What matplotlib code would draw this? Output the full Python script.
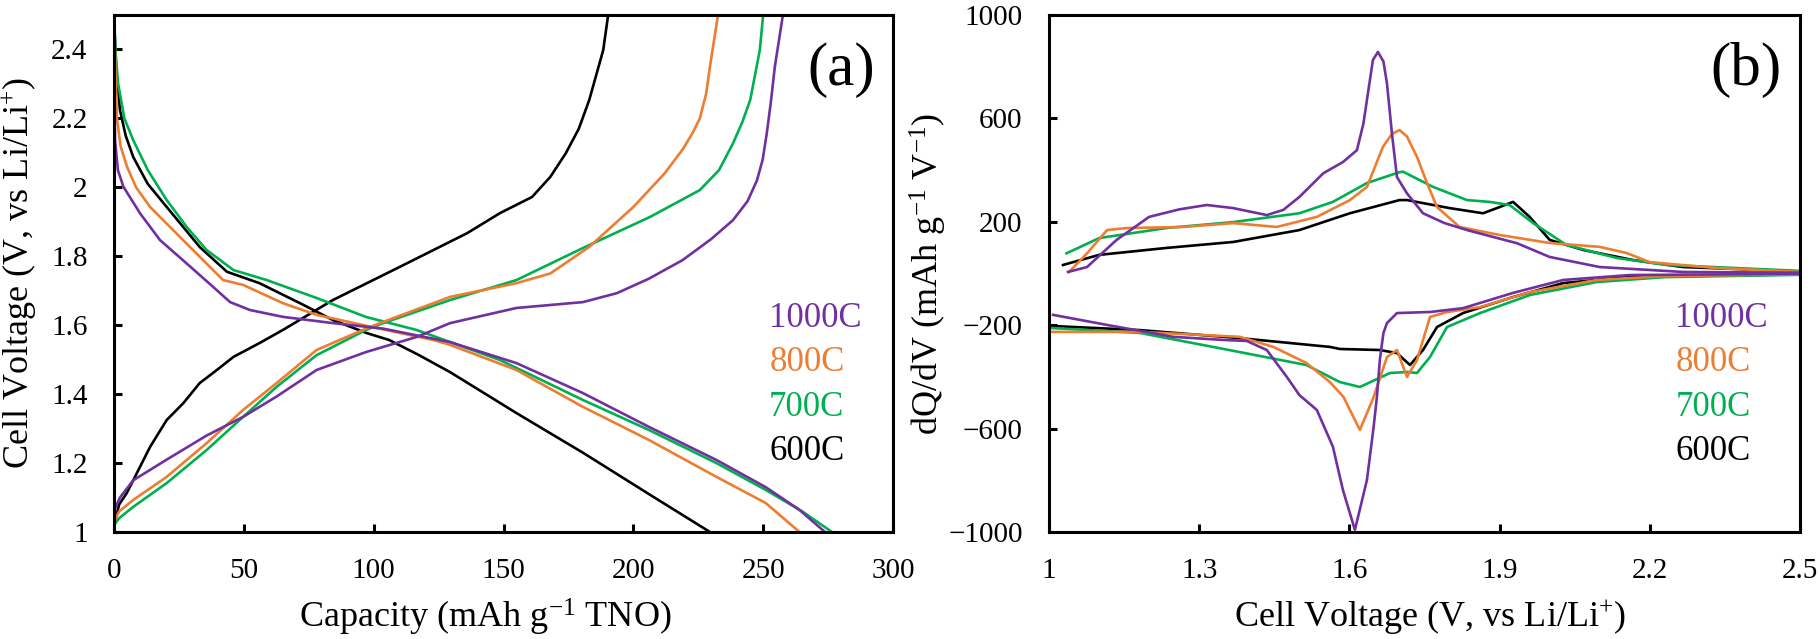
import matplotlib
matplotlib.use("Agg")
import matplotlib.pyplot as plt

plt.rcParams['font.family'] = ['Liberation Serif', 'DejaVu Serif']
plt.rcParams['mathtext.fontset'] = 'custom'
plt.rcParams['mathtext.rm'] = 'Liberation Serif'
plt.rcParams['mathtext.it'] = 'Liberation Serif:italic'

labels = ['1000C', '800C', '700C', '600C']
colors = ['#7030A0', '#ED7D31', '#00B050', '#000000']

# ---- (a) charge/discharge profiles: capacity (mAh/g) vs voltage
dis_cap_1000 = [0, 0.2, 0.4, 1.5, 3.6, 10, 17.7, 28, 38.2, 44.7, 52.4, 65.2, 84.4, 103.7, 129.4, 155, 180.6, 206, 232, 251, 264, 273.8]
dis_v_1000 = [2.5, 2.3, 2.137, 2.05, 2.002, 1.925, 1.847, 1.779, 1.711, 1.667, 1.644, 1.624, 1.606, 1.59, 1.551, 1.49, 1.403, 1.305, 1.209, 1.13, 1.064, 1.0]
dis_cap_800 = [0, 0.5, 1.1, 2.5, 5, 8.5, 13.9, 26.6, 42, 49.7, 65, 78, 101, 123, 129.4, 155, 180.6, 206, 232, 251, 264]
dis_v_800 = [2.5, 2.35, 2.204, 2.12, 2.06, 2.0, 1.943, 1.847, 1.731, 1.717, 1.664, 1.63, 1.592, 1.557, 1.543, 1.47, 1.363, 1.267, 1.16, 1.084, 1.0]
dis_cap_700 = [0, 0.5, 1.6, 4, 7.4, 13, 20.3, 28, 35.7, 46, 58.8, 78, 97, 116.6, 148.6, 155, 180.6, 206, 232, 251, 265, 276.5]
dis_v_700 = [2.5, 2.4, 2.3, 2.2, 2.137, 2.05, 1.963, 1.885, 1.818, 1.76, 1.731, 1.679, 1.624, 1.586, 1.499, 1.476, 1.383, 1.296, 1.2, 1.122, 1.06, 1.0]
dis_cap_600 = [0, 0.8, 2.3, 4.5, 7.4, 13, 20.3, 33, 43.5, 56, 71.6, 84.3, 97.4, 106, 117, 129.4, 155, 180.6, 206, 229.5]
dis_v_600 = [2.5, 2.35, 2.224, 2.15, 2.088, 2.01, 1.943, 1.827, 1.755, 1.722, 1.664, 1.615, 1.577, 1.557, 1.515, 1.464, 1.345, 1.23, 1.11, 1.0]

chg_cap_1000 = [0, 0.5, 2.3, 7.4, 20.3, 35.7, 49.7, 62.6, 78, 97, 116.6, 129.4, 155, 180.6, 193.7, 206, 219, 230, 238.4, 244, 247.6, 249.8, 251.4, 253, 254.5, 257.6]
chg_v_1000 = [1.03, 1.07, 1.1, 1.15, 1.21, 1.28, 1.334, 1.393, 1.47, 1.522, 1.566, 1.606, 1.65, 1.667, 1.693, 1.735, 1.789, 1.85, 1.905, 1.96, 2.02, 2.08, 2.157, 2.25, 2.35, 2.5]
chg_cap_800 = [0, 2, 7.4, 20.3, 35.7, 49.7, 62.6, 78, 97, 102.4, 129.4, 155, 168, 183, 200, 212, 219, 223, 225.6, 228, 229.5, 232.6]
chg_v_800 = [1.03, 1.06, 1.093, 1.16, 1.258, 1.354, 1.432, 1.528, 1.59, 1.606, 1.682, 1.722, 1.75, 1.827, 1.943, 2.04, 2.11, 2.16, 2.2, 2.27, 2.35, 2.5]
chg_cap_700 = [0, 2, 7.4, 20.3, 35.7, 49.7, 62.6, 78, 97, 103.6, 129.4, 155, 180.6, 206.4, 225.6, 233, 238.4, 242, 245, 248.7, 250]
chg_v_700 = [1.02, 1.04, 1.073, 1.142, 1.238, 1.334, 1.421, 1.513, 1.586, 1.606, 1.673, 1.731, 1.824, 1.914, 1.992, 2.05, 2.128, 2.19, 2.253, 2.398, 2.5]
chg_cap_600 = [0, 2, 4.9, 7.4, 13.9, 20.3, 26.6, 33, 39.6, 46, 56, 65, 84.3, 110, 136, 148.6, 161, 168, 174, 179, 183, 188.4, 190.3]
chg_v_600 = [1.02, 1.08, 1.113, 1.15, 1.247, 1.325, 1.373, 1.432, 1.47, 1.508, 1.548, 1.586, 1.673, 1.769, 1.867, 1.925, 1.972, 2.03, 2.099, 2.17, 2.253, 2.398, 2.5]

# ---- (b) dQ/dV vs cell voltage
ox_v_1000 = [1.038, 1.076, 1.135, 1.2, 1.26, 1.315, 1.368, 1.435, 1.468, 1.5, 1.548, 1.587, 1.615, 1.628, 1.635, 1.647, 1.657, 1.668, 1.675, 1.685, 1.695, 1.715, 1.747, 1.79, 1.835, 1.935, 2.0, 2.1, 2.266, 2.5]
ox_q_1000 = [6, 25, 130, 219, 248, 265, 253, 226, 246, 296, 388, 431, 477, 580, 671, 826, 857, 820, 736, 541, 373, 310, 233, 195, 168, 117, 64, 25, 6, 3]
ox_v_800 = [1.04, 1.076, 1.116, 1.156, 1.268, 1.368, 1.455, 1.535, 1.601, 1.635, 1.667, 1.685, 1.7, 1.715, 1.735, 1.755, 1.775, 1.82, 1.9, 2.0, 2.1, 2.154, 2.2, 2.334, 2.5]
ox_q_800 = [6, 78, 168, 176, 180, 195, 180, 219, 284, 335, 490, 540, 555, 530, 451, 350, 257, 180, 149, 118, 103, 79, 44, 21, 6]
ox_v_700 = [1.035, 1.1, 1.235, 1.368, 1.5, 1.567, 1.635, 1.7, 1.707, 1.767, 1.835, 1.88, 1.92, 1.967, 2.034, 2.134, 2.234, 2.5]
ox_q_700 = [78, 137, 176, 199, 233, 277, 350, 392, 394, 335, 284, 277, 265, 195, 110, 60, 33, 10]
ox_v_600 = [1.028, 1.1, 1.235, 1.368, 1.5, 1.601, 1.7, 1.715, 1.8, 1.867, 1.9, 1.927, 1.96, 2.0, 2.067, 2.167, 2.266, 2.5]
ox_q_600 = [33, 72, 99, 122, 168, 233, 284, 284, 253, 233, 257, 277, 219, 130, 91, 52, 25, 8]

red_v_1000 = [1.008, 1.116, 1.248, 1.348, 1.395, 1.435, 1.475, 1.5, 1.535, 1.567, 1.587, 1.611, 1.635, 1.648, 1.655, 1.661, 1.668, 1.675, 1.695, 1.761, 1.827, 1.927, 2.027, 2.16, 2.5]
red_q_1000 = [-160, -199, -245, -257, -261, -296, -400, -470, -528, -670, -837, -992, -799, -600, -477, -330, -230, -192, -153, -149, -134, -75, -25, -6, -1]
red_v_800 = [1.006, 1.182, 1.381, 1.448, 1.514, 1.561, 1.588, 1.601, 1.621, 1.648, 1.675, 1.695, 1.715, 1.735, 1.761, 1.795, 1.861, 1.961, 2.094, 2.23, 2.5]
red_q_800 = [-226, -226, -245, -284, -346, -420, -477, -528, -605, -480, -323, -296, -400, -335, -168, -149, -130, -72, -25, -10, -3]
red_v_700 = [1.006, 1.182, 1.381, 1.514, 1.581, 1.621, 1.681, 1.715, 1.735, 1.761, 1.795, 1.861, 1.961, 2.094, 2.23, 2.5]
red_q_700 = [-211, -230, -304, -354, -420, -439, -385, -381, -385, -323, -207, -153, -83, -33, -14, -5]
red_v_600 = [1.006, 1.182, 1.381, 1.561, 1.581, 1.661, 1.695, 1.721, 1.747, 1.775, 1.827, 1.927, 2.027, 2.16, 2.5]
red_q_600 = [-203, -219, -250, -284, -292, -296, -308, -354, -296, -207, -153, -91, -37, -13, -3]

dis_a = [(dis_cap_1000, dis_v_1000), (dis_cap_800, dis_v_800), (dis_cap_700, dis_v_700), (dis_cap_600, dis_v_600)]
chg_a = [(chg_cap_1000, chg_v_1000), (chg_cap_800, chg_v_800), (chg_cap_700, chg_v_700), (chg_cap_600, chg_v_600)]
ox_b = [(ox_v_1000, ox_q_1000), (ox_v_800, ox_q_800), (ox_v_700, ox_q_700), (ox_v_600, ox_q_600)]
red_b = [(red_v_1000, red_q_1000), (red_v_800, red_q_800), (red_v_700, red_q_700), (red_v_600, red_q_600)]

W, H = 1820, 639
fig = plt.figure(figsize=(W / 100, H / 100), dpi=100)
ax1 = fig.add_axes([114 / W, (H - 532) / H, 779 / W, 517 / H])
ax2 = fig.add_axes([1049 / W, (H - 532) / H, 751 / W, 517 / H])

lw = 1.9
# draw in reverse so purple ends up on top
for i in reversed(range(4)):
    ax1.plot(*dis_a[i], color=colors[i], lw=lw)
    ax1.plot(*chg_a[i], color=colors[i], lw=lw)
    ax2.plot(*ox_b[i], color=colors[i], lw=lw)
    ax2.plot(*red_b[i], color=colors[i], lw=lw)

ax1.set_xlim(0, 300)
ax1.set_ylim(1, 2.5)
ax1.set_xticks([0, 50, 100, 150, 200, 250, 300])
ax1.set_yticks([1, 1.2, 1.4, 1.6, 1.8, 2, 2.2, 2.4])
ax1.set_yticklabels(['1', '1.2', '1.4', '1.6', '1.8', '2', '2.2', '2.4'])

ax2.set_xlim(1, 2.5)
ax2.set_ylim(-1000, 1000)
ax2.set_xticks([1, 1.3, 1.6, 1.9, 2.2, 2.5])
ax2.set_xticklabels(['1', '1.3', '1.6', '1.9', '2.2', '2.5'])
ax2.set_yticks([-1000, -600, -200, 200, 600, 1000])

for ax in (ax1, ax2):
    for s in ax.spines.values():
        s.set_linewidth(2.2)
    ax.tick_params(direction='in', length=6, width=2.2, labelsize=21, pad=19,
                   top=False, right=False)

ax1.set_xlabel('Capacity (mAh g$^{-1}$ TNO)', fontsize=26, va='center')
ax1.xaxis.set_label_coords(0.476, -0.165)
ax1.set_ylabel('Cell Voltage (V, vs Li/Li$^{+}$)', fontsize=26, va='center')
ax1.yaxis.set_label_coords(-0.121, 0.5)

ax2.set_xlabel('Cell Voltage (V, vs Li/Li$^{+}$)', fontsize=26, va='center')
ax2.xaxis.set_label_coords(0.507, -0.165)
ax2.set_ylabel('dQ/dV (mAh g$^{-1}$ V$^{-1}$)', fontsize=26, va='center')
ax2.yaxis.set_label_coords(-0.161, 0.5)

ax1.text(0.934, 0.894, '(a)', transform=ax1.transAxes, fontsize=44, ha='center', va='center')
ax2.text(0.928, 0.894, '(b)', transform=ax2.transAxes, fontsize=44, ha='center', va='center')

ys = [0.412, 0.327, 0.240, 0.155]
for ax, x0 in ((ax1, 0.841), (ax2, 0.834)):
    for lab, c, y in zip(labels, colors, ys):
        ax.text(x0, y, lab, color=c, transform=ax.transAxes, fontsize=25, ha='left', va='center')

fig.savefig('out.png', dpi=100)
